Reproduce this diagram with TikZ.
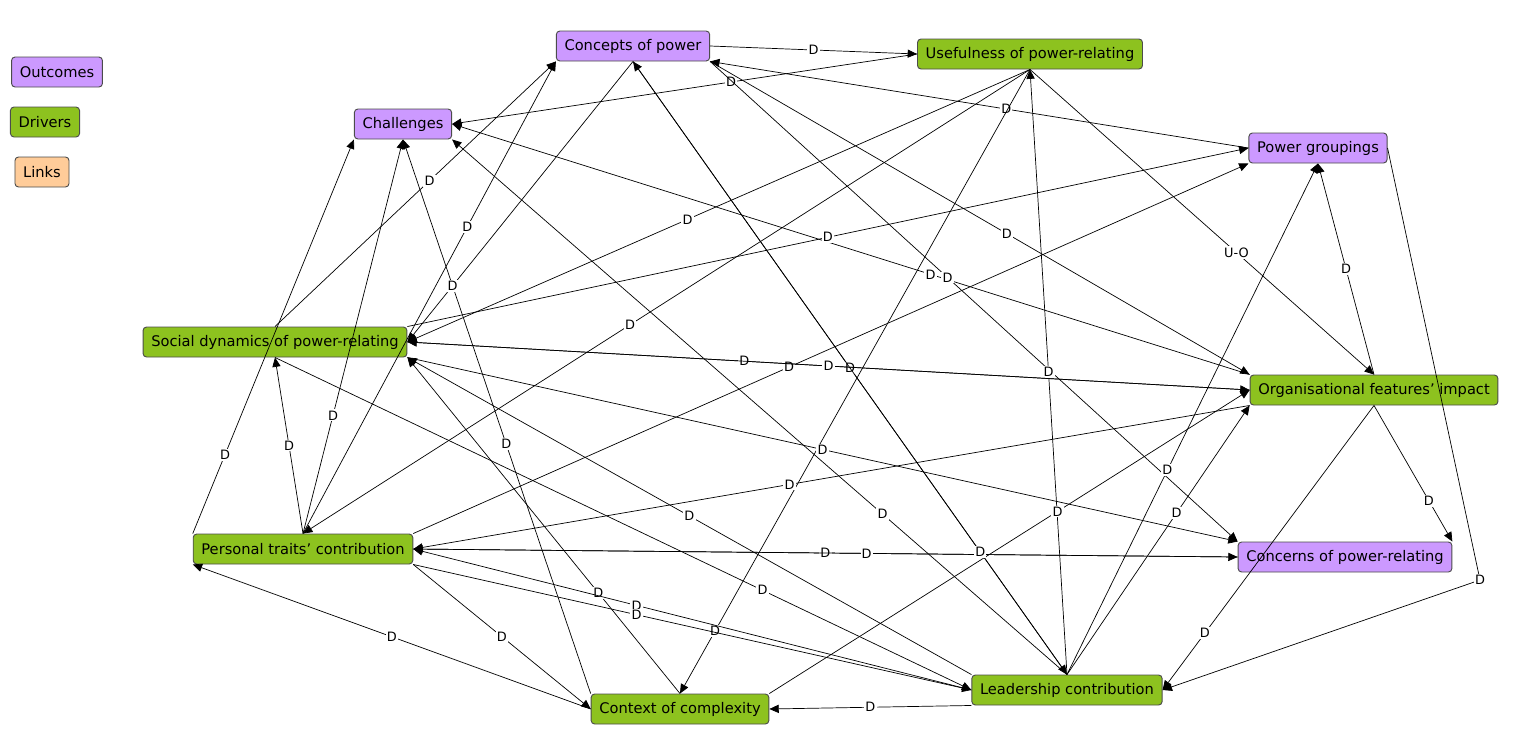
\documentclass[tikz,border=0pt]{standalone}
\usepackage{fontspec}
\setmainfont{DejaVu Sans}
\usetikzlibrary{arrows.meta}
\definecolor{pur}{HTML}{CC99FF}
\definecolor{grn}{HTML}{8DC21F}
\definecolor{org}{HTML}{FFCC99}
\begin{document}
\begin{tikzpicture}[x=0.03cm,y=-0.03cm,
 box/.style={draw=black!70,rounded corners=3pt,minimum height=0.9cm,inner xsep=7pt,font=\fontsize{12.5}{14}\selectfont,line width=0.8pt},
 obox/.style={box,fill=pur},dbox/.style={box,fill=grn},lbox/.style={box,fill=org},
 e/.style={-{Triangle[length=8pt,width=7pt]},line width=0.6pt},
 l/.style={fill=white,inner sep=1pt,font=\fontsize{11}{12}\selectfont}]
\useasboundingbox (0,0) rectangle (1531,744);
\node[obox] (leg1) at (57,72) {Outcomes};
\node[dbox] (leg2) at (45,122) {Drivers};
\node[lbox] (leg3) at (42,172) {Links};
\node[obox] (cp) at (633,46) {Concepts of power};
\node[dbox] (us) at (1030,54) {Usefulness of power-relating};
\node[obox] (ch) at (403,124) {Challenges};
\node[obox] (pg) at (1318,148) {Power groupings};
\node[dbox] (sd) at (275,342) {Social dynamics of power-relating};
\node[dbox] (of) at (1374,390) {Organisational features' impact};
\node[dbox] (pt) at (303,549) {Personal traits' contribution};
\node[obox] (co) at (1345,557) {Concerns of power-relating};
\node[dbox] (ld) at (1067,690) {Leadership contribution};
\node[dbox] (cx) at (680,709) {Context of complexity};

\draw[e] (pt.north west) -- node[l,pos=0.2]{D} (ch.south west);
\draw[e] (pt.north) -- node[l,pos=0.3]{D} (ch.south);
\draw[e] (cx.north west) -- node[l,pos=0.45]{D} (ch.south);
\draw[e] (ld.north) -- node[l,pos=0.3]{D} (ch.south east);
\draw[e] (us.west) -- node[l,pos=0.4]{D} (ch.east);
\draw[e] (of.north west) -- node[l,pos=0.4]{D} (ch.east);
\draw[e] (pg.west) -- node[l,pos=0.45]{D} (cp.south east);
\draw[e] (cp.east) -- node[l]{D} (us.west);
\draw[e] (sd.north) -- node[l,pos=0.55]{D} (cp.south west);
\draw[e] (pt.north) -- node[l,pos=0.65]{D} (cp.south west);
\draw[e] (cp.south) -- node[l,pos=0.8]{D} (sd.east);
\draw[e] (cp.south east) -- node[l,pos=0.55]{D} (of.north west);
\draw[e] (cp.south east) -- node[l,pos=0.45]{D} (co.north west);
\draw[e] (us.south) -- node[l,pos=0.55]{D} (sd.east);
\draw[e] (us.south) -- node[l,pos=0.55]{D} (pt.north);
\draw[e] (us.south) -- node[l,pos=0.9]{D} (cx.north);
\draw[e] (us.south) -- node[l,pos=0.6]{U-O} (of.north);
\draw[e] (ld.north) -- node[l,pos=0.5]{D} (us.south);
\draw[e] (ld.north) -- node[l,pos=0.5]{D} (cp.south);
\draw[e] (sd.north east) -- node[l,pos=0.5]{D} (pg.west);
\draw[e] (pt.north east) -- node[l,pos=0.45]{D} (pg.south west);
\draw[e] (ld.north) -- node[l,pos=0.4]{D} (pg.south);
\draw[e] (of.north) -- node[l,pos=0.5]{D} (pg.south);
\draw[e] (pg.east) -- (1480,580) node[l]{D} -- (ld.east);
\draw[e] (of.west) -- node[l,pos=0.6]{D} (sd.east);
\draw[e] (sd.east) -- node[l,pos=0.5]{D} (of.west);
\draw[e] (of.south) -- node[l,pos=0.7]{D} (co.north east);
\draw[e] (of.south) -- node[l,pos=0.8]{D} (ld.east);
\draw[e] (of.south west) -- node[l,pos=0.55]{D} (pt.east);
\draw[e] (pt.east) -- node[l,pos=0.5]{D} (co.west);
\draw[e] (co.west) -- node[l,pos=0.45]{D} (pt.east);
\draw[e] (sd.south east) -- node[l,pos=0.5]{D} (co.north west);
\draw[e] (ld.north west) -- node[l,pos=0.5]{D} (sd.south east);
\draw[e] (cx.north) -- node[l,pos=0.3]{D} (sd.south east);
\draw[e] (pt.north) -- node[l,pos=0.5]{D} (sd.south);
\draw[e] (pt.south east) -- node[l,pos=0.5]{D} (cx.west);
\draw[e] (cx.west) -- node[l,pos=0.5]{D} (pt.south west);
\draw[e] (ld.west) -- node[l,pos=0.6]{D} (pt.east);
\draw[e] (pt.south east) -- node[l,pos=0.4]{D} (ld.west);
\draw[e] (sd.south) -- node[l,pos=0.7]{D} (ld.west);
\draw[e] (ld.south west) -- node[l,pos=0.5]{D} (cx.east);
\draw[e] (cx.north east) -- node[l,pos=0.6]{D} (of.west);
\draw[e] (ld.north) -- node[l,pos=0.6]{D} (of.south west);
\draw[e] (cp.south) -- node[l,pos=0.8]{D} (ld.north);
\end{tikzpicture}
\end{document}
